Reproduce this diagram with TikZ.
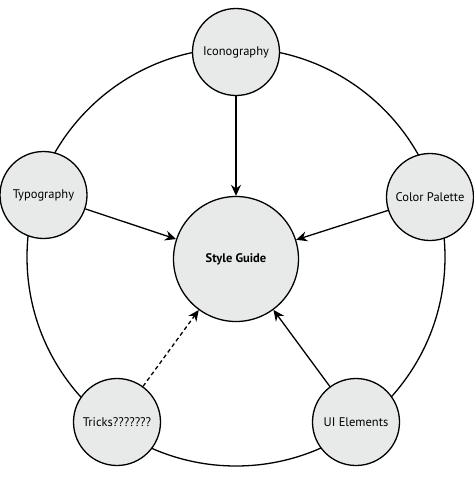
\documentclass[tikz,border=0pt]{standalone}
\usepackage{fontspec}
\setmainfont{PT Sans}
\usetikzlibrary{arrows.meta}
\definecolor{nodefill}{HTML}{E8E9E9}
\begin{document}
\begin{tikzpicture}[x=1pt,y=-1pt,
  topic/.style={circle,draw=black,line width=1.3pt,fill=nodefill,minimum size=87pt,inner sep=0pt,font=\fontsize{12.5}{14}\selectfont},
  hub/.style={circle,draw=black,line width=1.3pt,fill=nodefill,minimum size=125pt,inner sep=0pt,font=\fontsize{12.5}{14}\selectfont\bfseries},
  link/.style={line width=1.3pt,-{Stealth[length=11pt,width=10pt]}},
  ring/.style={line width=1.3pt}]
\useasboundingbox (0,0) rectangle (474,480);
\coordinate (o) at (236,257);
\draw[ring] (o) circle[radius=209];
\node[hub] (sg) at (236,259) {Style Guide};
\node[topic] (ico) at (236,52) {Iconography};
\node[topic] (typ) at (43.5,195) {Typography};
\node[topic] (col) at (430,197) {Color Palette};
\node[topic] (tri) at (117,422) {Tricks???????};
\node[topic] (ui) at (356,422) {UI Elements};
\draw[link] (ico) -- (sg);
\draw[link] (typ) -- (sg);
\draw[link] (col) -- (sg);
\draw[link] (ui) -- (sg);
\draw[link,dashed,dash pattern=on 4pt off 3pt] (tri) -- (sg);
\end{tikzpicture}
\end{document}
